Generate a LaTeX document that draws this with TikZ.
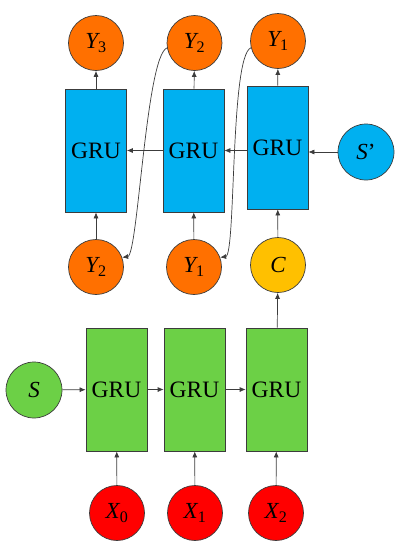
\documentclass[tikz,border=0pt]{standalone}
\usepackage{fontspec}
\setmainfont{Liberation Serif}
\usetikzlibrary{arrows.meta}

\definecolor{decblue}{RGB}{0,176,240}
\definecolor{encgreen}{RGB}{108,208,70}
\definecolor{outorange}{RGB}{255,112,0}
\definecolor{ctxyellow}{RGB}{255,192,0}
\definecolor{inred}{RGB}{255,0,0}
\definecolor{edge}{RGB}{60,60,60}

\begin{document}
\begin{tikzpicture}[x=1pt,y=-1pt,
  gru/.style={draw=edge,line width=0.7pt,minimum width=61pt,minimum height=123pt,font=\fontsize{23.5}{25}\selectfont},
  ball/.style={circle,draw=edge,line width=0.7pt,minimum size=55pt,inner sep=0pt,font=\fontsize{23}{25}\selectfont\itshape},
  link/.style={edge,line width=0.7pt,-{Latex[length=6pt,width=5pt]}}]

  \useasboundingbox (0,0) rectangle (400,550);

  % Decoder
  \node[gru,fill=decblue] (b1) at (96,150.5) {GRU};
  \node[gru,fill=decblue] (b2) at (193.5,150.5) {GRU};
  \node[gru,fill=decblue] (b3) at (277.5,147.5) {GRU};

  \node[ball,fill=outorange] (y3t) at (96,43) {Y\textsubscript{\upshape 3}};
  \node[ball,fill=outorange] (y2t) at (194.5,43) {Y\textsubscript{\upshape 2}};
  \node[ball,fill=outorange] (y1t) at (278,41) {Y\textsubscript{\upshape 1}};

  \node[ball,fill=outorange] (y2b) at (96,267) {Y\textsubscript{\upshape 2}};
  \node[ball,fill=outorange] (y1b) at (194,267) {Y\textsubscript{\upshape 1}};
  \node[ball,fill=ctxyellow] (c) at (278,265) {C};

  \node[ball,fill=decblue,minimum size=56pt] (sp) at (366,152) {S\upshape ’};

  % Encoder
  \node[gru,fill=encgreen] (g1) at (116.5,389.5) {GRU};
  \node[gru,fill=encgreen] (g2) at (194.5,389.5) {GRU};
  \node[gru,fill=encgreen] (g3) at (276.5,389.5) {GRU};

  \node[ball,fill=encgreen,minimum size=56pt] (s) at (34,390) {S};

  \node[ball,fill=inred] (x0) at (117,513) {X\textsubscript{\upshape 0}};
  \node[ball,fill=inred] (x1) at (195,513) {X\textsubscript{\upshape 1}};
  \node[ball,fill=inred] (x2) at (276,513) {X\textsubscript{\upshape 2}};

  % Arrows
  \draw[link] (y2b) -- (b1);
  \draw[link] (y1b) -- (b2);
  \draw[link] (c) -- (b3);
  \draw[link] (b1) -- (y3t);
  \draw[link] (b2) -- (y2t);
  \draw[link] (b3) -- (y1t);

  \draw[link] (sp.west) -- (sp.west -| b3.east);
  \draw[link] (b3.west |- b2.east) -- (b2.east);
  \draw[link] (b2) -- (b1);

  \draw[link] (s) -- (g1);
  \draw[link] (g1) -- (g2);
  \draw[link] (g2) -- (g3);
  \draw[link] (x0) -- (g1);
  \draw[link] (x1) -- (g2);
  \draw[link] (x2) -- (g3);
  \draw[link] (g3) -- (c);

  % Feedback
  \draw[link] (y2t.190) .. controls (146,56) and (138,255) .. (y2b.20);
  \draw[link] (y1t.194) .. controls (230,56) and (236,255) .. (y1b.20);
\end{tikzpicture}
\end{document}
